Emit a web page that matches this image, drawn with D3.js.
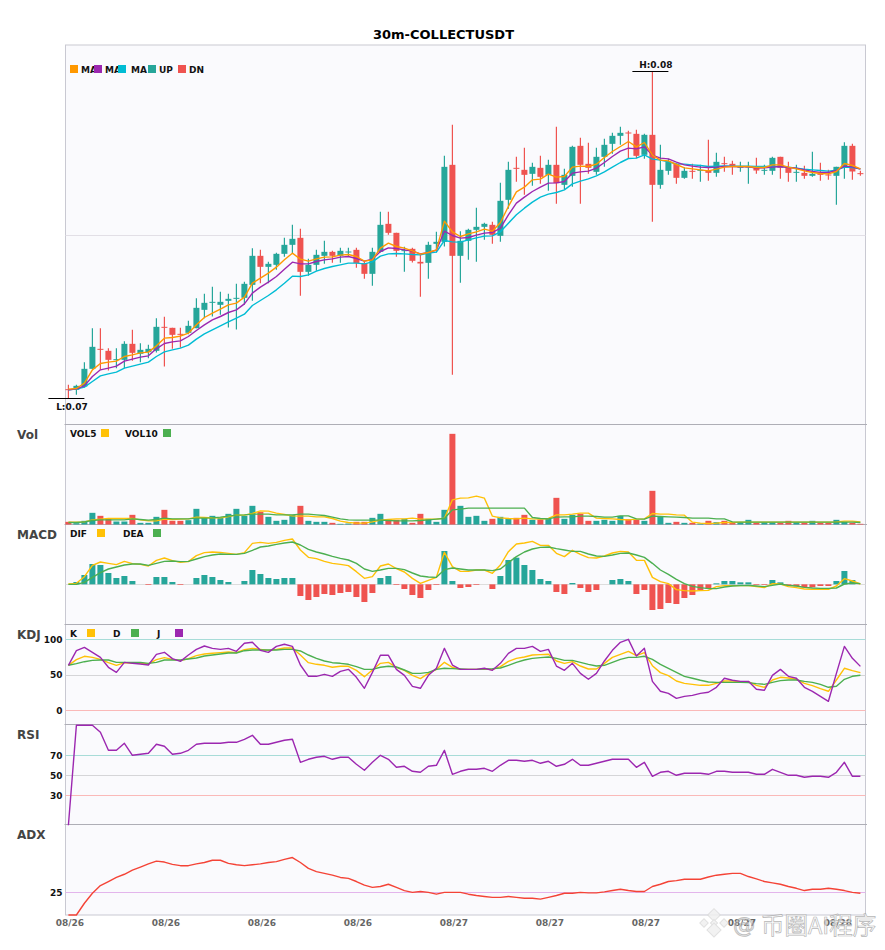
<!DOCTYPE html>
<html>
<head>
<meta charset="utf-8">
<script src="https://cdn.jsdelivr.net/npm/d3@7"></script>
<style>
html, body { margin: 0; padding: 0; background: #fff; }
svg { display: block; font-family: "DejaVu Sans", sans-serif; }
</style>
</head>
<body>
<div id="chart"></div>
<script>
// prices are stored x 100000
const open = [7106,7104,7114,7167,7227,7221,7194,7194,7242,7212,
7217,7221,7293,7290,7272,7275,7289,7344,7366,7359,
7371,7378,7380,7419,7506,7473,7479,7512,7539,7560,
7458,7479,7506,7518,7506,7517,7524,7484,7452,7518,
7602,7575,7521,7527,7488,7485,7542,7548,7779,7506,
7551,7584,7593,7599,7566,7674,7770,7764,7752,7770,
7749,7779,7719,7746,7836,7782,7758,7803,7842,7866,
7876,7872,7809,7869,7719,7761,7782,7740,7761,7762,
7762,7755,7784,7782,7770,7772,7772,7762,7761,7803,
7770,7756,7755,7746,7752,7750,7746,7773,7836,7754];
const close = [7104,7116,7167,7233,7225,7194,7196,7242,7215,7224,
7227,7293,7291,7269,7270,7296,7350,7365,7368,7368,
7377,7380,7422,7506,7473,7482,7512,7539,7557,7458,
7479,7509,7518,7506,7521,7519,7484,7452,7518,7599,
7575,7521,7523,7491,7483,7539,7548,7773,7506,7551,
7584,7593,7602,7569,7671,7764,7768,7749,7773,7743,
7779,7724,7749,7833,7779,7770,7803,7839,7866,7875,
7874,7806,7869,7719,7764,7788,7740,7761,7759,7764,
7755,7788,7782,7776,7774,7774,7762,7764,7800,7770,
7755,7758,7746,7752,7749,7748,7773,7836,7759,7752];
const high = [7119,7119,7187,7289,7289,7229,7229,7250,7284,7244,
7239,7319,7323,7290,7290,7311,7379,7392,7413,7398,
7392,7422,7428,7529,7524,7488,7515,7560,7599,7587,
7497,7524,7551,7521,7530,7530,7530,7491,7530,7638,
7638,7575,7533,7530,7509,7548,7578,7806,7899,7580,
7587,7650,7605,7608,7725,7788,7803,7830,7785,7806,
7794,7893,7767,7836,7860,7845,7830,7857,7875,7893,
7881,7884,7872,8059,7839,7797,7784,7772,7782,7779,
7854,7815,7803,7791,7788,7788,7800,7779,7803,7803,
7788,7779,7776,7818,7785,7764,7773,7847,7842,7761];
const low = [7079,7089,7111,7167,7164,7162,7169,7169,7191,7187,
7199,7216,7174,7227,7230,7271,7289,7319,7324,7329,
7291,7285,7359,7371,7424,7424,7464,7503,7514,7386,
7446,7461,7482,7485,7485,7503,7470,7437,7416,7516,
7569,7503,7458,7486,7383,7437,7516,7534,7149,7425,
7494,7488,7554,7542,7548,7647,7728,7689,7716,7722,
7701,7662,7706,7713,7662,7752,7749,7773,7812,7839,
7799,7799,7797,7608,7707,7749,7722,7737,7737,7728,
7731,7743,7758,7749,7758,7722,7752,7749,7749,7737,
7728,7728,7737,7743,7731,7734,7659,7737,7734,7746];

const ma5 = [7106,7108,7124,7164,7183,7187,7190,7204,7209,7215,
7217,7236,7259,7261,7265,7274,7299,7321,7334,7346,
7359,7364,7382,7424,7439,7454,7472,7494,7514,7496,
7490,7497,7502,7503,7508,7510,7504,7490,7494,7529,
7544,7534,7529,7521,7511,7516,7524,7610,7578,7564,
7572,7578,7586,7580,7606,7654,7698,7712,7734,7736,
7751,7742,7744,7772,7775,7774,7781,7801,7819,7834,
7849,7833,7846,7808,7793,7791,7780,7770,7767,7764,
7761,7766,7772,7774,7774,7774,7771,7771,7779,7779,
7772,7767,7761,7756,7753,7752,7759,7783,7777,7767];
const ma10 = [7104,7107,7116,7144,7164,7169,7175,7190,7196,7202,
7206,7227,7243,7248,7251,7264,7282,7299,7314,7324,
7336,7344,7362,7394,7412,7427,7444,7466,7487,7482,
7482,7489,7494,7497,7502,7504,7498,7490,7496,7519,
7530,7528,7524,7520,7512,7516,7523,7580,7567,7559,
7561,7568,7574,7576,7589,7629,7664,7682,7699,7712,
7724,7725,7729,7754,7758,7760,7769,7786,7804,7820,
7829,7827,7833,7808,7799,7797,7787,7779,7775,7772,
7771,7772,7774,7774,7773,7773,7769,7770,7772,7774,
7771,7769,7764,7759,7756,7756,7762,7775,7773,7766];
const ma20 = [7104,7106,7112,7129,7146,7152,7157,7169,7175,7181,
7187,7204,7218,7224,7229,7238,7256,7272,7284,7296,
7308,7319,7331,7357,7372,7387,7404,7424,7445,7444,
7449,7460,7468,7474,7479,7484,7484,7482,7488,7505,
7512,7513,7512,7510,7509,7514,7517,7552,7548,7547,
7554,7560,7565,7566,7578,7604,7629,7649,7667,7682,
7691,7696,7704,7722,7730,7737,7746,7758,7772,7786,
7798,7799,7809,7796,7793,7788,7782,7781,7779,7777,
7774,7775,7776,7775,7775,7775,7774,7774,7774,7774,
7772,7769,7766,7764,7762,7760,7763,7772,7771,7767];

const vol = [8,4,11,35,26,17,9,9,29,5,
5,23,44,11,11,13,47,20,26,20,
32,47,26,56,38,23,11,14,29,56,
11,8,8,5,2,3,8,8,20,32,
14,14,17,5,32,17,8,44,272,56,
23,26,11,17,23,17,20,29,14,15,
17,80,17,29,32,11,11,14,11,26,
16,14,11,101,23,5,8,5,5,3,
11,7,11,5,7,14,5,7,7,5,
11,7,5,11,5,5,14,8,5,2];
const vol5 = [7,7,8,14,16,18,18,18,18,14,
11,11,16,15,16,17,22,21,20,20,
24,28,28,33,41,40,34,30,26,25,
25,23,23,18,10,6,4,4,8,13,
15,17,17,19,16,16,16,19,74,79,
80,85,79,25,20,18,17,19,17,16,
18,29,29,31,34,34,19,18,17,15,
14,16,17,33,31,31,29,28,7,4,
3,4,6,6,7,7,7,7,7,7,
7,7,7,7,7,7,8,10,10,8];
const vol10 = [6,6,8,12,14,14,14,14,17,15,
13,15,19,17,17,17,19,19,20,22,
25,28,29,31,31,31,29,29,29,31,
31,29,27,22,17,14,13,13,13,13,
12,11,11,11,12,14,16,18,44,46,
49,49,49,49,49,49,49,49,21,18,
17,22,23,23,25,25,24,22,22,26,
26,17,16,25,24,23,22,21,19,19,
19,17,17,8,7,7,7,7,7,7,
7,7,7,7,7,7,7,7,7,6];

const hist = [0,7,28,61,58,34,19,25,10,0,
-2,22,22,7,-2,0,19,28,22,13,
7,0,10,43,31,19,16,19,19,-35,
-47,-38,-29,-32,-26,-23,-38,-53,-26,19,
25,-2,-14,-32,-41,-17,-2,100,10,-11,
-8,-2,0,-14,25,73,80,58,43,16,
10,-23,-29,4,-11,-23,-17,0,13,16,
10,-29,-17,-77,-74,-56,-59,-41,-32,-17,
-13,3,10,10,6,6,-2,-2,13,6,
-4,-6,-9,-9,-5,-5,10,40,13,0];
const dif = [1,3,23,57,67,63,59,69,62,60,
55,72,79,71,66,68,86,95,97,96,
93,90,95,123,126,123,126,132,136,103,
81,77,69,63,60,56,38,18,23,55,
61,47,37,18,3,12,21,96,53,39,
39,43,43,33,58,98,121,124,129,117,
117,93,83,102,90,80,79,85,94,99,
97,72,72,21,8,2,-16,-19,-20,-19,
-18,-7,-4,-4,-4,-4,-7,-10,2,1,
-7,-10,-14,-15,-15,-15,-5,17,10,1];
const dea = [0,0,6,21,35,46,52,58,61,61,
57,63,69,70,68,69,76,83,88,91,
90,90,93,102,112,115,120,124,127,118,
105,97,91,84,78,73,63,46,39,43,
48,48,44,34,25,22,21,44,49,46,
43,43,43,41,46,65,83,97,106,111,
112,107,103,99,99,91,85,84,88,93,
94,88,81,63,43,30,15,2,-6,-10,
-13,-13,-8,-5,-4,-3,-5,-7,-3,1,
-3,-5,-9,-11,-12,-12,-11,1,4,2];

const kLine = [63.4,71.4,76.1,74.6,71.8,67.1,63.4,67.1,66.7,66.2,
65.3,71.4,74.2,71.8,70,72.8,77,79.3,80.3,81.2,
82.2,81.2,85.4,87.3,85.9,84.5,85.9,87.8,87.8,77.9,
67.1,64.8,63.4,60.6,62,62,56.3,47.4,56.8,66.2,
67.6,60.6,56.3,49.3,44.6,52.1,57.7,67.6,60.6,57.7,
57.7,57.7,58.2,57.3,61.5,69,73.2,75.1,77.9,78.4,
78.9,69.5,66.2,68.5,62.4,58.2,58.2,66.2,74.6,78.9,
83.1,77,81.2,62.9,53.1,48.8,41.3,38,36.6,35.2,
35.2,38,41.3,41.3,40.4,40.4,35.2,32.4,42.7,46.5,
45.5,43.7,38,34.7,30.5,26.8,42.7,59.2,55.9,53.1];
const dLine = [63.4,65.7,68.5,70.4,70.9,70.9,67.6,67.6,67.6,67.6,
66.2,67.6,70.9,70.9,70.9,72.3,73.7,76.5,77.9,79.3,
80.8,80.8,84,85,85,85,85,85.9,85.9,83.6,
77.9,73.2,69.5,67.1,66.2,64.8,61.5,57.7,57.7,60.6,
62,61,56.8,52.1,52.1,53.5,57.7,59.2,58.7,58.2,
57.7,57.7,58.2,58.7,59.6,63.4,67.6,70.9,73.2,74.2,
75.1,73.2,70.4,70.4,67.6,64.8,62.4,63.4,67.6,71.8,
74.6,74.6,76.1,71.8,64.8,59.2,53.5,47.9,45.1,42.3,
39.9,39.4,39.4,39.4,39.4,39,37.6,36.6,39.4,41.8,
42.7,42.7,40.8,39.4,36.6,32.4,33.8,43.7,47.9,49.3];
const jLine = [63.4,84,88.7,81.7,74.6,60.6,53.5,67.6,66.2,65.3,
63.8,78.9,81.7,72.8,69,77.9,85.9,90.6,87.3,85.9,
87.3,83.1,94.4,95.8,84.5,81.7,90.1,93,90.1,63.8,
47.9,47.9,50.7,47.9,54.9,57.7,46.5,31,53.5,77.5,
77.5,57.7,49.3,33.8,31,49.3,59.2,87.3,63.8,57.7,
57.7,57.7,59.2,56.3,66.2,80.3,87.3,87.3,90.1,83.1,
85.9,62.4,56.3,66.2,52.1,43.7,52.1,69.5,84.5,95.8,
100,76.5,87.3,40.8,26.8,23.9,16.9,19.7,21.1,23.9,
25.4,32.4,45.1,42.3,40.8,40.8,29.6,28.2,49.3,57.7,
47.9,45.1,32.4,26.8,19.7,12.7,52.1,90.1,73.2,61.9];

const rsi = [0,100,100,100,93,75,75,82,70,71,
72,81,79,71,72,75,81,82,82,82,
83,83,86,90,81,81,83,85,86,63,
66,68,69,66,68,68,61,55,63,70,
66,58,59,54,53,59,60,75,51,54,
56,56,57,54,60,65,65,64,65,62,
64,59,61,66,60,60,62,64,66,66,
66,58,63,49,53,54,50,52,52,52,
51,54,54,53,53,53,51,51,56,53,
50,50,48,49,49,48,53,63,49,49];

const adx = [20,20,22.6,24.8,26.5,27.4,28.3,29,29.9,30.6,
31.3,31.9,31.7,31.2,30.9,30.9,31.3,31.6,32.1,32.1,
31.4,31.1,30.9,31.1,31.3,31.6,31.8,32.3,32.7,31.6,
30.3,29.6,29.2,28.8,28.3,28.1,27.4,26.6,26.1,26.3,
26.8,26.1,25.4,25,25.2,25,24.6,25,25,25,
24.6,24.3,24.1,23.9,23.9,24.1,23.9,23.7,23.7,23.5,
23.9,24.3,24.8,24.8,25,24.9,24.9,25.1,25.4,25.7,
25.4,25.2,25.2,26.3,26.8,27.4,27.6,27.9,27.9,27.9,
28.4,28.8,29,29.2,29.2,28.5,28,27.4,27.1,26.8,
26.3,25.9,25.4,25.7,25.7,25.9,25.7,25.4,25,24.8];

const xTickIndex = [0, 12, 24, 36, 48, 60, 72, 84, 96];
const xTickLabels = ["08/26", "08/26", "08/26", "08/26", "08/27", "08/27", "08/27", "08/27", "08/28"];

const UP = "#26a69a", DN = "#ef5350";
const width = 885, height = 950;
const left = 65.5, right = 865.5;

const svg = d3.select("#chart").append("svg")
    .attr("width", width)
    .attr("height", height);

const x = d3.scaleBand()
    .domain(d3.range(open.length))
    .range([64.4, 864.4])
    .paddingInner(0.25)
    .paddingOuter(0.125);
const cx = i => x(i) + x.bandwidth() / 2;

// panel scales
const yPrice = d3.scaleLinear().domain([7000, 8138.5]).range([424.5, 45]);
const yVol = d3.scaleLinear().domain([0, 300]).range([524.5, 424.5]);
const yMacd = d3.scaleLinear().domain([-120.5, 179.5]).range([624.5, 524.5]);
const yKdj = d3.scaleLinear().domain([-20, 120.9]).range([724.5, 624.5]);
const yRsi = d3.scaleLinear().domain([0, 100]).range([825.3, 725.3]);
const yAdx = d3.scaleLinear().domain([20, 40]).range([915, 824.5]);

// background + frame
svg.append("rect")
    .attr("x", left).attr("y", 45)
    .attr("width", right - left).attr("height", 870)
    .attr("fill", "#fafafd")
    .attr("stroke", "#c9c9d2");

// panel separators
[424.5, 524.5, 624.5, 724.5, 824.5].forEach(y => {
    svg.append("line")
        .attr("x1", left - 1).attr("x2", right + 1.5)
        .attr("y1", y).attr("y2", y)
        .attr("stroke", "#aeaeb6");
});

// guide lines for each indicator
function guide(scale, value, color) {
    svg.append("line")
        .attr("x1", left).attr("x2", right)
        .attr("y1", Math.round(scale(value)) + 0.5)
        .attr("y2", Math.round(scale(value)) + 0.5)
        .attr("stroke", color);
}
guide(yPrice, 7569.25, "#e2dfe6");
guide(yMacd, 0, "#dddddd");
guide(yKdj, 100, "#a8dcd8");
guide(yKdj, 50, "#d5d5d8");
guide(yKdj, 0, "#fab9b8");
guide(yRsi, 70, "#a8dcd8");
guide(yRsi, 50, "#d5d5d8");
guide(yRsi, 30, "#fab9b8");
guide(yAdx, 25, "#e3b5ec");

// candles
const candles = svg.append("g").selectAll("g")
    .data(d3.range(open.length))
    .enter()
    .append("g");

candles.append("line")
    .attr("x1", cx).attr("x2", cx)
    .attr("y1", i => yPrice(high[i]))
    .attr("y2", i => yPrice(low[i]))
    .attr("stroke", i => close[i] >= open[i] ? UP : DN)
    .attr("stroke-width", 1.2);

candles.append("rect")
    .attr("x", i => x(i))
    .attr("width", x.bandwidth())
    .attr("y", i => yPrice(Math.max(open[i], close[i])))
    .attr("height", i => Math.max(1, Math.abs(yPrice(open[i]) - yPrice(close[i]))))
    .attr("fill", i => close[i] >= open[i] ? UP : DN);

function drawLine(values, scale, color) {
    const line = d3.line()
        .x((d, i) => cx(i))
        .y(d => scale(d));
    svg.append("path")
        .datum(values)
        .attr("d", line)
        .attr("fill", "none")
        .attr("stroke", color)
        .attr("stroke-width", 1.4)
        .attr("stroke-linejoin", "round");
}

drawLine(ma20, yPrice, "#00bcd4");
drawLine(ma10, yPrice, "#9c27b0");
drawLine(ma5, yPrice, "#ff9800");

// high / low markers
const hiIndex = high.indexOf(d3.max(high));
const loIndex = low.indexOf(d3.min(low.slice(0, 3)));
function marker(i, value, label, textY) {
    const y = Math.round(yPrice(value)) + 0.5;
    svg.append("line")
        .attr("x1", cx(i) - 20).attr("x2", cx(i) + 16)
        .attr("y1", y).attr("y2", y)
        .attr("stroke", "#000");
    svg.append("text")
        .attr("x", cx(i) + 3.5).attr("y", textY)
        .attr("text-anchor", "middle")
        .attr("font-size", 9).attr("font-weight", "bold")
        .attr("fill", "#111")
        .text(label);
}
marker(hiIndex, high[hiIndex], "H:" + (high[hiIndex] / 100000).toFixed(2), 68);
marker(loIndex, low[loIndex], "L:" + (low[loIndex] / 100000).toFixed(2), 410);

// volume bars
svg.append("g").selectAll("rect")
    .data(vol)
    .enter()
    .append("rect")
    .attr("x", (d, i) => x(i))
    .attr("width", x.bandwidth())
    .attr("y", d => yVol(d))
    .attr("height", d => yVol(0) - yVol(d))
    .attr("fill", (d, i) => close[i] >= open[i] ? UP : DN);
drawLine(vol5, yVol, "#ffc107");
drawLine(vol10, yVol, "#4caf50");

// macd bars
svg.append("g").selectAll("rect")
    .data(hist)
    .enter()
    .append("rect")
    .attr("x", (d, i) => x(i))
    .attr("width", x.bandwidth())
    .attr("y", d => yMacd(Math.max(d, 0)))
    .attr("height", d => Math.abs(yMacd(d) - yMacd(0)))
    .attr("fill", d => d >= 0 ? UP : DN);
drawLine(dif, yMacd, "#ffc107");
drawLine(dea, yMacd, "#4caf50");

drawLine(kLine, yKdj, "#ffc107");
drawLine(dLine, yKdj, "#4caf50");
drawLine(jLine, yKdj, "#9c27b0");
drawLine(rsi, yRsi, "#9c27b0");
drawLine(adx, yAdx, "#f44336");

// legends - swatches go on top of the text like the original
function legend(items, textY) {
    items.forEach(it => {
        svg.append("text")
            .attr("x", it.tx).attr("y", textY)
            .attr("font-size", 9).attr("font-weight", "bold")
            .attr("fill", "#111")
            .text(it.name);
    });
    items.forEach(it => {
        svg.append("rect")
            .attr("x", it.sx).attr("y", textY - 7.5)
            .attr("width", 8).attr("height", 8)
            .attr("fill", it.color);
    });
}
legend([
    { name: "MA", tx: 81, sx: 70, color: "#ff9800" },
    { name: "MA", tx: 105, sx: 94, color: "#9c27b0" },
    { name: "MA", tx: 131, sx: 118, color: "#00bcd4" },
    { name: "UP", tx: 159, sx: 148, color: UP },
    { name: "DN", tx: 189, sx: 178, color: DN }
], 72.5);
legend([
    { name: "VOL5", tx: 70, sx: 101, color: "#ffc107" },
    { name: "VOL10", tx: 125, sx: 163, color: "#4caf50" }
], 436.5);
legend([
    { name: "DIF", tx: 70, sx: 97, color: "#ffc107" },
    { name: "DEA", tx: 123, sx: 153, color: "#4caf50" }
], 536.5);
legend([
    { name: "K", tx: 70, sx: 87, color: "#ffc107" },
    { name: "D", tx: 113, sx: 131, color: "#4caf50" },
    { name: "J", tx: 157, sx: 175, color: "#9c27b0" }
], 636.5);

// panel names
[["Vol", 439], ["MACD", 539], ["KDJ", 639], ["RSI", 739], ["ADX", 839]].forEach(p => {
    svg.append("text")
        .attr("x", 17).attr("y", p[1])
        .attr("font-size", 12).attr("font-weight", "bold")
        .attr("fill", "#444")
        .text(p[0]);
});

// y tick labels
function yAxis(scale, values) {
    const g = svg.append("g")
        .attr("transform", `translate(${left},0)`)
        .call(d3.axisLeft(scale).tickValues(values).tickSize(0).tickPadding(3));
    g.select(".domain").remove();
    g.selectAll("text")
        .attr("font-family", "DejaVu Sans")
        .attr("font-size", 9)
        .attr("font-weight", "bold")
        .attr("fill", "#111");
}
yAxis(yKdj, [0, 50, 100]);
yAxis(yRsi, [30, 50, 70]);
yAxis(yAdx, [25]);

// x tick labels
const xAxisG = svg.append("g")
    .attr("transform", "translate(1.5,915)")
    .call(d3.axisBottom(x)
        .tickValues(xTickIndex)
        .tickFormat((d, i) => xTickLabels[i])
        .tickSize(0)
        .tickPadding(5));
xAxisG.select(".domain").remove();
xAxisG.selectAll("text")
    .attr("font-family", "DejaVu Sans")
    .attr("font-size", 9)
    .attr("font-weight", "bold")
    .attr("fill", "#666");

// title
svg.append("text")
    .attr("x", 443.5).attr("y", 39)
    .attr("text-anchor", "middle")
    .attr("font-size", 13).attr("font-weight", "bold")
    .attr("fill", "#000")
    .text("30m-COLLECTUSDT");

// watermark
const mark = svg.append("g").attr("opacity", 0.85);
[[714, 915, 9], [704, 923, 6], [724, 923, 6], [714, 923, 5], [714, 930, 10]].forEach(d => {
    mark.append("rect")
        .attr("x", -d[2] / 2).attr("y", -d[2] / 2)
        .attr("width", d[2]).attr("height", d[2])
        .attr("transform", `translate(${d[0]},${d[1]}) rotate(45)`)
        .attr("fill", "#f0f0f0")
        .attr("stroke", "#dcdcdc");
});
mark.append("text")
    .attr("x", 733).attr("y", 933)
    .attr("font-size", 22)
    .attr("fill", "none")
    .attr("stroke", "#b5b5b5")
    .text("@");
mark.append("text")
    .attr("x", 761).attr("y", 934)
    .attr("font-family", "Noto Sans CJK SC")
    .attr("font-size", 23.5)
    .attr("fill", "rgba(255,255,255,0.75)")
    .attr("stroke", "#aaaaaa")
    .attr("stroke-width", 0.7)
    .text("币圈AI程序");
</script>
</body>
</html>
